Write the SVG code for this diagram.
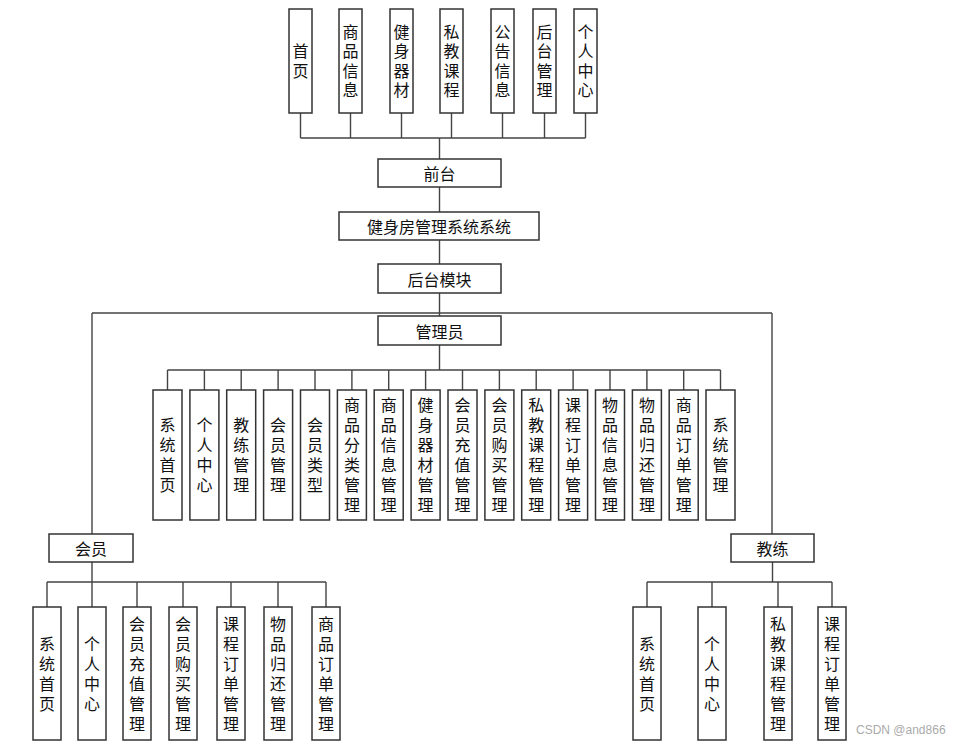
<svg xmlns="http://www.w3.org/2000/svg" width="954" height="744" viewBox="0 0 954 744">
<style>
.b{fill:#fff;stroke:#333;stroke-width:1.5}
.t{font-family:"Noto Sans CJK SC","Noto Sans CJK TC",sans-serif;font-size:16px;fill:#111;text-anchor:middle;dominant-baseline:central}
.v{font-family:"Noto Sans CJK SC","Noto Sans CJK TC",sans-serif;font-size:16px;fill:#111;text-anchor:middle;writing-mode:vertical-rl;glyph-orientation-vertical:0;letter-spacing:4px}
.s{letter-spacing:3.5px}
.c{fill:none;stroke:#444;stroke-width:1.4}
.w{font-family:"Liberation Sans",Arial,sans-serif;font-size:12px;fill:#aaa}
</style>
<rect width="954" height="744" fill="#fff"/>
<g id="connectors" class="c">
<path d="M300.5 113V138M350.5 113V138M401.5 113V138M451.5 113V138M502.5 113V138M544.5 113V138M585.5 113V138M300.5 138H585.5M439.5 138V159"/>
<path d="M439.5 187V212M439.5 240V264M439.5 293V316M439.5 345V370"/>
<path d="M92 313H772M92 313V534M772 313V534"/>
<path d="M167.5 370H720.5M167.5 370V390M204.4 370V390M241.2 370V390M278.1 370V390M315 370V390M351.9 370V390M388.7 370V390M425.6 370V390M462.5 370V390M499.4 370V390M536.2 370V390M573.1 370V390M610 370V390M646.9 370V390M683.7 370V390M720.5 370V390"/>
<path d="M92 562V582M47 582H326M47 582V607M92 582V607M137 582V607M183 582V607M231 582V607M278 582V607M326 582V607"/>
<path d="M772.5 562V582M647 582H832M647 582V607M712 582V607M778 582V607M832 582V607"/>
</g>
<g id="top-home"><rect class="b" x="289" y="9" width="23" height="104"/><text class="v s" x="300.5" y="62.75">首页</text></g>
<g id="top-goods"><rect class="b" x="339" y="9" width="23" height="104"/><text class="v s" x="350.5" y="62.75">商品信息</text></g>
<g id="top-equip"><rect class="b" x="390" y="9" width="23" height="104"/><text class="v s" x="401.5" y="62.75">健身器材</text></g>
<g id="top-course"><rect class="b" x="440" y="9" width="23" height="104"/><text class="v s" x="451.5" y="62.75">私教课程</text></g>
<g id="top-notice"><rect class="b" x="491" y="9" width="23" height="104"/><text class="v s" x="502.5" y="62.75">公告信息</text></g>
<g id="top-admin"><rect class="b" x="533" y="9" width="23" height="104"/><text class="v s" x="544.5" y="62.75">后台管理</text></g>
<g id="top-personal"><rect class="b" x="574" y="9" width="23" height="104"/><text class="v s" x="585.5" y="62.75">个人中心</text></g>
<g id="frontend"><rect class="b" x="378" y="159" width="123" height="28"/><text class="t" x="439.5" y="173">前台</text></g>
<g id="system"><rect class="b" x="339" y="212" width="200" height="28"/><text class="t" x="439" y="226">健身房管理系统系统</text></g>
<g id="backend"><rect class="b" x="378" y="264" width="123" height="29"/><text class="t" x="439.5" y="278.5">后台模块</text></g>
<g id="administrator"><rect class="b" x="378" y="316" width="123" height="29"/><text class="t" x="439.5" y="330.5">管理员</text></g>
<g id="a1"><rect class="b" x="153" y="390" width="29" height="130"/><text class="v" x="167.5" y="457">系统首页</text></g>
<g id="a2"><rect class="b" x="189.9" y="390" width="29" height="130"/><text class="v" x="204.4" y="457">个人中心</text></g>
<g id="a3"><rect class="b" x="226.7" y="390" width="29" height="130"/><text class="v" x="241.2" y="457">教练管理</text></g>
<g id="a4"><rect class="b" x="263.6" y="390" width="29" height="130"/><text class="v" x="278.1" y="457">会员管理</text></g>
<g id="a5"><rect class="b" x="300.5" y="390" width="29" height="130"/><text class="v" x="315" y="457">会员类型</text></g>
<g id="a6"><rect class="b" x="337.4" y="390" width="29" height="130"/><text class="v" x="351.9" y="457">商品分类管理</text></g>
<g id="a7"><rect class="b" x="374.2" y="390" width="29" height="130"/><text class="v" x="388.7" y="457">商品信息管理</text></g>
<g id="a8"><rect class="b" x="411.1" y="390" width="29" height="130"/><text class="v" x="425.6" y="457">健身器材管理</text></g>
<g id="a9"><rect class="b" x="448" y="390" width="29" height="130"/><text class="v" x="462.5" y="457">会员充值管理</text></g>
<g id="a10"><rect class="b" x="484.9" y="390" width="29" height="130"/><text class="v" x="499.4" y="457">会员购买管理</text></g>
<g id="a11"><rect class="b" x="521.7" y="390" width="29" height="130"/><text class="v" x="536.2" y="457">私教课程管理</text></g>
<g id="a12"><rect class="b" x="558.6" y="390" width="29" height="130"/><text class="v" x="573.1" y="457">课程订单管理</text></g>
<g id="a13"><rect class="b" x="595.5" y="390" width="29" height="130"/><text class="v" x="610" y="457">物品信息管理</text></g>
<g id="a14"><rect class="b" x="632.4" y="390" width="29" height="130"/><text class="v" x="646.9" y="457">物品归还管理</text></g>
<g id="a15"><rect class="b" x="669.2" y="390" width="29" height="130"/><text class="v" x="683.7" y="457">商品订单管理</text></g>
<g id="a16"><rect class="b" x="706" y="390" width="29" height="130"/><text class="v" x="720.5" y="457">系统管理</text></g>
<g id="member"><rect class="b" x="49" y="534" width="84" height="28"/><text class="t" x="91" y="548">会员</text></g>
<g id="m1"><rect class="b" x="33" y="607" width="28" height="133"/><text class="v" x="47" y="675.5">系统首页</text></g>
<g id="m2"><rect class="b" x="78" y="607" width="28" height="133"/><text class="v" x="92" y="675.5">个人中心</text></g>
<g id="m3"><rect class="b" x="123" y="607" width="28" height="133"/><text class="v" x="137" y="675.5">会员充值管理</text></g>
<g id="m4"><rect class="b" x="169" y="607" width="28" height="133"/><text class="v" x="183" y="675.5">会员购买管理</text></g>
<g id="m5"><rect class="b" x="217" y="607" width="28" height="133"/><text class="v" x="231" y="675.5">课程订单管理</text></g>
<g id="m6"><rect class="b" x="264" y="607" width="28" height="133"/><text class="v" x="278" y="675.5">物品归还管理</text></g>
<g id="m7"><rect class="b" x="312" y="607" width="28" height="133"/><text class="v" x="326" y="675.5">商品订单管理</text></g>
<g id="coach"><rect class="b" x="731" y="534" width="83" height="28"/><text class="t" x="772.5" y="548">教练</text></g>
<g id="c1"><rect class="b" x="633" y="607" width="28" height="133"/><text class="v" x="647" y="675.5">系统首页</text></g>
<g id="c2"><rect class="b" x="698" y="607" width="28" height="133"/><text class="v" x="712" y="675.5">个人中心</text></g>
<g id="c3"><rect class="b" x="764" y="607" width="28" height="133"/><text class="v" x="778" y="675.5">私教课程管理</text></g>
<g id="c4"><rect class="b" x="818" y="607" width="28" height="133"/><text class="v" x="832" y="675.5">课程订单管理</text></g>
<text class="w" x="856" y="734">CSDN @and866</text>
</svg>
